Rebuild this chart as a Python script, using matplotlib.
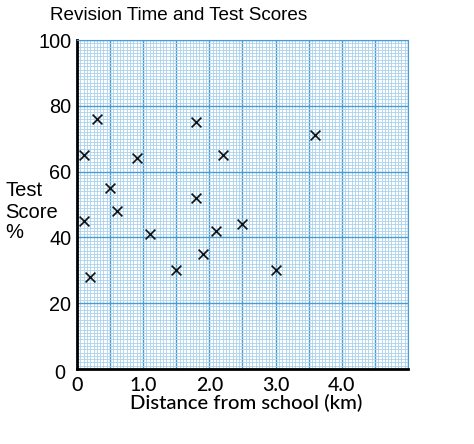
import numpy as np
import matplotlib.pyplot as plt
from matplotlib.ticker import MultipleLocator

# distance from school (km) and test score (%)
distance = [0.3, 0.1, 0.9, 0.5, 0.6, 0.1, 1.1, 0.2, 1.5, 1.8, 1.8, 1.9, 2.1, 2.2, 2.5, 3.6, 3.0]
score = [76, 65, 64, 55, 48, 45, 41, 28, 30, 75, 52, 35, 42, 65, 44, 71, 30]

x_ticks = [0, 1, 2, 3, 4]
x_tick_labels = ['0', '1.0', '2.0', '3.0', '4.0']
y_ticks = [20, 40, 60, 80, 100]
y_tick_labels = ['20', '40', '60', '80', '100']

fig = plt.figure(figsize=(4.74, 4.44), dpi=100)
ax = fig.add_axes([0.1624, 0.1689, 0.6984, 0.741])

ax.set_xlim(0, 5)
ax.set_ylim(0, 100)

# graph paper grid
ax.xaxis.set_minor_locator(MultipleLocator(0.05))
ax.yaxis.set_minor_locator(MultipleLocator(1))
ax.set_xticks(np.arange(0, 5.01, 0.5), minor=False)
ax.grid(which='minor', color='#a9d2ee', linewidth=0.6)
ax.grid(which='major', color='#4a9bd2', linewidth=1.0)
ax.set_axisbelow(True)
ax.set_xticklabels([])

for lx, lab in zip(x_ticks, x_tick_labels):
    ax.text(lx, -2.3, lab, ha='center', va='top', fontsize=14, family='Lato',
            fontweight='medium')

ax.set_yticks(y_ticks)
ax.set_yticklabels(y_tick_labels, fontsize=14.3, family='Liberation Sans')
ax.tick_params(which='both', length=0)
ax.tick_params(axis='y', pad=4)
# the zero on the y axis sits a little low and to the left
ax.text(-0.17, -1.5, '0', ha='right', va='center', fontsize=14.3, family='Liberation Sans')

ax.spines['left'].set_linewidth(2)
ax.spines['bottom'].set_linewidth(2)
ax.spines['left'].set_color('black')
ax.spines['bottom'].set_color('black')
ax.spines['top'].set_color('#4a9bd2')
ax.spines['right'].set_color('#4a9bd2')

ax.scatter(distance, score, marker='x', color='#111111', s=50, linewidths=1.2, zorder=5, clip_on=False)

fig.text(50 / 474, 1 - 16 / 444, 'Revision Time and Test Scores', fontsize=13.6,
         family='Liberation Sans', ha='left', va='center')
# y label written as three separate lines
for line, ypix in zip(['Test', 'Score', '%'], [190, 212, 232]):
    fig.text(5 / 474, 1 - ypix / 444, line, fontsize=14.5, family='Liberation Sans',
             ha='left', va='center')
fig.text(246 / 474, 1 - 403 / 444, 'Distance from school (km)', fontsize=14.6,
         family='Lato', fontweight='medium', ha='center', va='center')

fig.savefig('out.png', dpi=100)
